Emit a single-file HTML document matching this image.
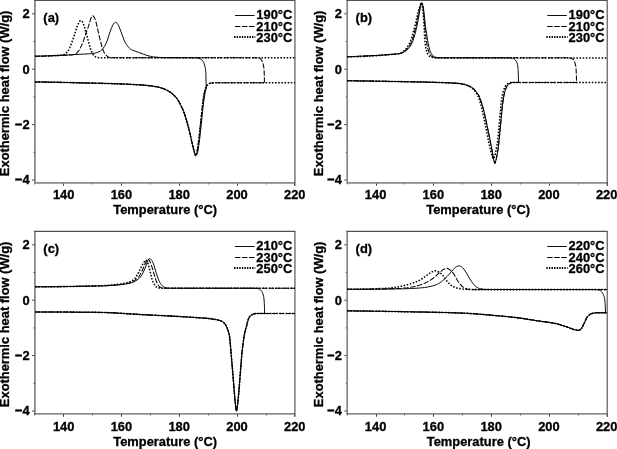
<!DOCTYPE html>
<html lang="en">
<head>
<meta charset="utf-8">
<title>DSC curves</title>
<style>
html,body{margin:0;padding:0;background:#fff;}
body{width:617px;height:449px;overflow:hidden;}
svg{display:block;}
.t text{font-family:"Liberation Sans",Arial,Helvetica,sans-serif;font-weight:bold;font-size:12.9px;fill:#000;stroke:#000;stroke-width:0.3px;}
</style>
</head>
<body>
<svg width="617" height="449" viewBox="0 0 617 449">
<rect width="617" height="449" fill="#fff"/>
<path d="M34.50 182.85v1.5M63.50 182.85v2.9M92.50 182.85v1.5M121.50 182.85v2.9M150.50 182.85v1.5M179.50 182.85v2.9M208.50 182.85v1.5M237.50 182.85v2.9M266.50 182.85v1.5M294.50 182.85v2.9M34.95 13.80h-2.9M34.95 41.50h-1.5M34.95 69.20h-2.9M34.95 96.90h-1.5M34.95 124.60h-2.9M34.95 152.30h-1.5M34.95 180.00h-2.9" stroke="#444" stroke-width="1" fill="none"/>
<path d="M34.95 -0.30V183.55" stroke="#606060" stroke-width="1.35" fill="none"/>
<path d="M34.25 182.85H294.95" stroke="#8a8a8a" stroke-width="1.7" fill="none"/>
<path d="M34.25 0.30H295.55M294.95 0.30V185.75" stroke="#505050" stroke-width="1.15" fill="none"/>
<g class="t">
<text transform="translate(63.64 199.40) scale(1 1.05)" text-anchor="middle">140</text>
<text transform="translate(121.42 199.40) scale(1 1.05)" text-anchor="middle">160</text>
<text transform="translate(179.19 199.40) scale(1 1.05)" text-anchor="middle">180</text>
<text transform="translate(236.97 199.40) scale(1 1.05)" text-anchor="middle">200</text>
<text transform="translate(294.75 199.40) scale(1 1.05)" text-anchor="middle">220</text>
<text transform="translate(29.75 18.20) scale(1 1.05)" text-anchor="end">2</text>
<text transform="translate(29.75 73.60) scale(1 1.05)" text-anchor="end">0</text>
<text transform="translate(29.75 129.00) scale(1 1.05)" text-anchor="end">−2</text>
<text transform="translate(29.75 184.40) scale(1 1.05)" text-anchor="end">−4</text>
<text transform="translate(165.15 213.50) scale(1 1.05)" text-anchor="middle">Temperature (°C)</text>
<text transform="translate(8.90 93.40) scale(1.05 1) rotate(-90)" font-size="13.2" text-anchor="middle">Exothermic heat flow (W/g)</text>
<text transform="translate(43.35 21.95) scale(1 1.05)">(a)</text>
<text transform="translate(256.35 19.05) scale(1 1.05)">190°C</text>
<text transform="translate(256.35 30.50) scale(1 1.05)">210°C</text>
<text transform="translate(256.35 41.95) scale(1 1.05)">230°C</text>
</g>
<g stroke="#000" fill="none">
<path d="M235.0 15.5H254.5" stroke-width="0.95"/>
<path d="M235.0 26.5H254.5" stroke-width="1.05" stroke-dasharray="5.4 1.6"/>
<path d="M234.1 37.0H255.3" stroke-width="2" stroke-dasharray="1.4 1.17"/>
</g>
<path d="M347.50 182.85v1.5M376.50 182.85v2.9M404.50 182.85v1.5M433.50 182.85v2.9M462.50 182.85v1.5M491.50 182.85v2.9M520.50 182.85v1.5M549.50 182.85v2.9M578.50 182.85v1.5M607.50 182.85v2.9M347.20 13.80h-2.9M347.20 41.50h-1.5M347.20 69.20h-2.9M347.20 96.90h-1.5M347.20 124.60h-2.9M347.20 152.30h-1.5M347.20 180.00h-2.9" stroke="#444" stroke-width="1" fill="none"/>
<path d="M347.20 -0.30V183.55" stroke="#858585" stroke-width="1.7" fill="none"/>
<path d="M346.50 182.85H607.20" stroke="#8a8a8a" stroke-width="1.7" fill="none"/>
<path d="M346.50 0.30H607.80M607.20 0.30V185.75" stroke="#505050" stroke-width="1.15" fill="none"/>
<g class="t">
<text transform="translate(375.59 199.40) scale(1 1.05)" text-anchor="middle">140</text>
<text transform="translate(433.37 199.40) scale(1 1.05)" text-anchor="middle">160</text>
<text transform="translate(491.14 199.40) scale(1 1.05)" text-anchor="middle">180</text>
<text transform="translate(548.92 199.40) scale(1 1.05)" text-anchor="middle">200</text>
<text transform="translate(606.70 199.40) scale(1 1.05)" text-anchor="middle">220</text>
<text transform="translate(342.00 18.20) scale(1 1.05)" text-anchor="end">2</text>
<text transform="translate(342.00 73.60) scale(1 1.05)" text-anchor="end">0</text>
<text transform="translate(342.00 129.00) scale(1 1.05)" text-anchor="end">−2</text>
<text transform="translate(342.00 184.40) scale(1 1.05)" text-anchor="end">−4</text>
<text transform="translate(478.10 213.50) scale(1 1.05)" text-anchor="middle">Temperature (°C)</text>
<text transform="translate(322.80 93.40) scale(1.05 1) rotate(-90)" font-size="13.2" text-anchor="middle">Exothermic heat flow (W/g)</text>
<text transform="translate(355.60 21.95) scale(1 1.05)">(b)</text>
<text transform="translate(568.60 19.05) scale(1 1.05)">190°C</text>
<text transform="translate(568.60 30.50) scale(1 1.05)">210°C</text>
<text transform="translate(568.60 41.95) scale(1 1.05)">230°C</text>
</g>
<g stroke="#000" fill="none">
<path d="M547.3 15.5H566.8" stroke-width="0.95"/>
<path d="M547.3 26.5H566.8" stroke-width="1.05" stroke-dasharray="5.4 1.6"/>
<path d="M546.4 37.0H567.6" stroke-width="2" stroke-dasharray="1.4 1.17"/>
</g>
<path d="M34.50 413.85v1.5M63.50 413.85v2.9M92.50 413.85v1.5M121.50 413.85v2.9M150.50 413.85v1.5M179.50 413.85v2.9M208.50 413.85v1.5M237.50 413.85v2.9M266.50 413.85v1.5M294.50 413.85v2.9M34.95 244.80h-2.9M34.95 272.50h-1.5M34.95 300.20h-2.9M34.95 327.90h-1.5M34.95 355.60h-2.9M34.95 383.30h-1.5M34.95 411.00h-2.9" stroke="#444" stroke-width="1" fill="none"/>
<path d="M34.95 230.70V414.55" stroke="#606060" stroke-width="1.35" fill="none"/>
<path d="M34.25 413.85H294.95" stroke="#626262" stroke-width="1.3" fill="none"/>
<path d="M34.25 231.30H295.55M294.95 231.30V416.75" stroke="#505050" stroke-width="1.15" fill="none"/>
<g class="t">
<text transform="translate(63.64 430.90) scale(1 1.05)" text-anchor="middle">140</text>
<text transform="translate(121.42 430.90) scale(1 1.05)" text-anchor="middle">160</text>
<text transform="translate(179.19 430.90) scale(1 1.05)" text-anchor="middle">180</text>
<text transform="translate(236.97 430.90) scale(1 1.05)" text-anchor="middle">200</text>
<text transform="translate(294.75 430.90) scale(1 1.05)" text-anchor="middle">220</text>
<text transform="translate(29.75 249.20) scale(1 1.05)" text-anchor="end">2</text>
<text transform="translate(29.75 304.60) scale(1 1.05)" text-anchor="end">0</text>
<text transform="translate(29.75 360.00) scale(1 1.05)" text-anchor="end">−2</text>
<text transform="translate(29.75 415.40) scale(1 1.05)" text-anchor="end">−4</text>
<text transform="translate(165.15 445.50) scale(1 1.05)" text-anchor="middle">Temperature (°C)</text>
<text transform="translate(8.90 324.40) scale(1.05 1) rotate(-90)" font-size="13.2" text-anchor="middle">Exothermic heat flow (W/g)</text>
<text transform="translate(43.35 252.95) scale(1 1.05)">(c)</text>
<text transform="translate(256.35 250.05) scale(1 1.05)">210°C</text>
<text transform="translate(256.35 261.50) scale(1 1.05)">230°C</text>
<text transform="translate(256.35 272.95) scale(1 1.05)">250°C</text>
</g>
<g stroke="#000" fill="none">
<path d="M235.0 246.5H254.5" stroke-width="0.95"/>
<path d="M235.0 257.5H254.5" stroke-width="1.05" stroke-dasharray="5.4 1.6"/>
<path d="M234.1 268.0H255.3" stroke-width="2" stroke-dasharray="1.4 1.17"/>
</g>
<path d="M347.50 413.85v1.5M376.50 413.85v2.9M404.50 413.85v1.5M433.50 413.85v2.9M462.50 413.85v1.5M491.50 413.85v2.9M520.50 413.85v1.5M549.50 413.85v2.9M578.50 413.85v1.5M607.50 413.85v2.9M347.20 244.80h-2.9M347.20 272.50h-1.5M347.20 300.20h-2.9M347.20 327.90h-1.5M347.20 355.60h-2.9M347.20 383.30h-1.5M347.20 411.00h-2.9" stroke="#444" stroke-width="1" fill="none"/>
<path d="M347.20 230.70V414.55" stroke="#858585" stroke-width="1.7" fill="none"/>
<path d="M346.50 413.85H607.20" stroke="#626262" stroke-width="1.3" fill="none"/>
<path d="M346.50 231.30H607.80M607.20 231.30V416.75" stroke="#505050" stroke-width="1.15" fill="none"/>
<g class="t">
<text transform="translate(375.59 431.10) scale(1 1.05)" text-anchor="middle">140</text>
<text transform="translate(433.37 431.10) scale(1 1.05)" text-anchor="middle">160</text>
<text transform="translate(491.14 431.10) scale(1 1.05)" text-anchor="middle">180</text>
<text transform="translate(548.92 431.10) scale(1 1.05)" text-anchor="middle">200</text>
<text transform="translate(606.70 431.10) scale(1 1.05)" text-anchor="middle">220</text>
<text transform="translate(342.00 249.20) scale(1 1.05)" text-anchor="end">2</text>
<text transform="translate(342.00 304.60) scale(1 1.05)" text-anchor="end">0</text>
<text transform="translate(342.00 360.00) scale(1 1.05)" text-anchor="end">−2</text>
<text transform="translate(342.00 415.40) scale(1 1.05)" text-anchor="end">−4</text>
<text transform="translate(478.60 445.70) scale(1 1.05)" text-anchor="middle">Temperature (°C)</text>
<text transform="translate(322.80 324.40) scale(1.05 1) rotate(-90)" font-size="13.2" text-anchor="middle">Exothermic heat flow (W/g)</text>
<text transform="translate(355.60 252.95) scale(1 1.05)">(d)</text>
<text transform="translate(568.60 250.05) scale(1 1.05)">220°C</text>
<text transform="translate(568.60 261.50) scale(1 1.05)">240°C</text>
<text transform="translate(568.60 272.95) scale(1 1.05)">260°C</text>
</g>
<g stroke="#000" fill="none">
<path d="M547.3 246.5H566.8" stroke-width="0.95"/>
<path d="M547.3 257.5H566.8" stroke-width="1.05" stroke-dasharray="5.4 1.6"/>
<path d="M546.4 268.0H567.6" stroke-width="2" stroke-dasharray="1.4 1.17"/>
</g>
<g stroke="#000" fill="none" stroke-linejoin="round">
<path d="M35.00 81.90L64.00 82.43L104.50 83.40L122.50 83.98L137.00 84.67L142.50 85.06L147.50 85.52L152.00 86.06L156.50 86.73L158.50 87.15L161.00 87.86L163.50 88.76L166.00 89.83L168.50 91.08L170.00 92.02L171.00 92.74L172.50 93.96L173.50 94.87L176.00 97.46L177.50 99.35L179.00 101.74L180.50 104.55L182.00 107.72L183.50 111.22L184.50 113.96L185.50 117.03L187.00 122.11L188.50 127.53L189.50 131.47L192.50 144.76L194.00 150.77L194.50 152.57L195.50 155.52L196.00 155.35L197.30 153.84L197.80 151.85L198.30 149.03L199.80 138.14L202.80 109.59L203.30 105.04L203.80 101.20L204.80 94.70L205.30 91.95L205.80 89.81L206.30 88.41L206.30 86.60L206.07 82.09L205.82 72.56L205.68 70.56L205.39 68.53L205.10 67.02L204.62 65.08L204.20 63.71L203.81 62.75L203.30 61.78L202.70 60.87L202.04 60.07L201.35 59.46L200.17 58.84L198.73 58.31L197.16 57.93L196.13 57.81L164.04 57.58L159.01 57.38L153.53 56.95L152.05 56.71L150.57 56.38L145.74 55.03L143.38 54.19L138.69 52.38L134.77 51.06L132.87 50.33L131.56 49.71L130.75 49.24L130.00 48.68L129.27 48.03L128.56 47.30L127.56 46.09L126.65 44.82L125.84 43.53L124.69 41.39L123.70 39.10L119.30 27.18L118.72 25.79L118.02 24.53L117.06 23.17L116.29 22.42L115.91 22.23L115.53 22.22L115.12 22.39L114.29 23.09L113.28 24.29L112.77 25.11L112.32 25.99L111.71 27.40L110.06 31.68L107.78 38.95L106.96 41.31L106.01 43.58L104.57 46.24L103.10 48.44L101.76 49.95L101.05 50.56L100.30 51.05L99.01 51.74L98.07 52.16L96.09 52.85L94.59 53.21L91.66 53.57L88.17 53.85L65.07 55.07L49.03 55.77L35.00 56.30" stroke-width="0.95"/>
<path d="M35.00 81.90L64.00 82.43L104.50 83.40L122.50 83.98L137.00 84.67L142.50 85.06L147.50 85.52L152.00 86.06L156.50 86.73L158.50 87.15L161.00 87.86L163.50 88.76L166.00 89.83L168.50 91.08L170.00 92.02L171.00 92.74L172.50 93.96L173.50 94.87L176.00 97.46L177.50 99.35L179.00 101.74L180.50 104.55L182.00 107.72L183.50 111.22L184.50 113.96L185.50 117.03L187.00 122.11L188.50 127.53L189.50 131.47L192.50 144.76L194.00 150.77L194.50 152.57L195.50 155.52L196.00 155.35L196.50 153.84L197.00 151.85L197.50 149.03L198.00 145.66L199.00 138.14L199.50 133.65L202.50 105.04L203.00 101.20L204.00 94.70L204.50 91.95L205.00 89.81L205.50 88.41L206.50 86.29L207.00 85.44L207.50 84.74L208.00 84.21L208.50 83.85L209.00 83.63L210.50 83.13L211.50 82.94L214.00 82.83L264.40 82.80L264.33 76.76L264.10 70.28L263.93 68.26L263.51 65.71L263.05 63.75L262.63 62.39L262.26 61.47L261.74 60.46L261.10 59.50L260.37 58.68L259.60 58.15L259.21 58.02L257.36 57.86L254.74 57.80L114.97 57.80L113.46 57.75L111.42 57.56L109.47 57.25L108.55 56.98L107.66 56.46L106.85 55.86L106.09 55.20L105.38 54.46L104.77 53.66L104.27 52.83L103.23 50.56L102.07 47.21L101.14 43.83L99.21 36.05L96.61 24.30L95.84 21.40L95.02 18.99L94.39 17.65L93.44 16.28L93.06 15.91L92.70 15.71L92.38 15.77L92.05 16.10L91.44 17.11L90.84 18.49L88.03 27.61L85.95 33.25L83.59 40.39L82.54 43.21L81.57 45.52L80.04 48.74L79.00 50.45L78.42 51.20L77.38 52.34L76.59 53.10L75.76 53.76L74.89 54.28L74.01 54.58L71.74 54.87L68.79 55.11L48.52 55.97L41.51 56.18L35.00 56.30" stroke-width="1.05" stroke-dasharray="5.4 1.6"/>
<path d="M35.00 81.90L64.00 82.43L104.50 83.40L122.50 83.98L137.00 84.67L142.50 85.06L147.50 85.52L152.00 86.06L156.50 86.73L158.50 87.15L161.00 87.86L163.50 88.76L166.00 89.83L168.50 91.08L170.00 92.02L171.00 92.74L172.50 93.96L173.50 94.87L176.00 97.46L177.50 99.35L179.00 101.74L180.50 104.55L182.00 107.72L183.50 111.22L184.50 113.96L185.50 117.03L187.00 122.11L188.50 127.53L189.50 131.47L192.50 144.76L194.00 150.77L194.50 152.57L195.50 155.52L196.00 155.35L196.50 153.84L197.00 151.85L197.50 149.03L198.00 145.66L199.00 138.14L199.50 133.65L202.50 105.04L203.00 101.20L204.00 94.70L204.50 91.95L205.00 89.81L205.50 88.41L206.50 86.29L207.00 85.44L207.50 84.74L208.00 84.21L208.50 83.85L209.00 83.63L210.00 83.26L211.00 83.02L212.00 82.90L215.00 82.81L294.90 82.80" stroke-width="1.55" stroke-dasharray="1.55 1.6"/>
<path d="M35.00 56.30L40.00 56.24L45.00 56.09L58.00 55.42L60.50 55.19L63.00 54.82L64.00 54.61L64.50 54.43L65.00 54.11L66.00 53.17L67.50 51.51L68.50 50.14L69.50 48.41L70.00 47.28L71.50 43.41L73.00 39.27L75.00 33.26L76.50 28.31L77.50 25.54L79.00 22.22L79.50 21.41L80.00 20.92L80.50 20.57L81.00 20.53L81.50 20.83L82.00 21.30L82.50 22.04L83.50 24.26L84.00 25.66L85.00 28.83L86.50 34.53L90.00 47.25L91.00 50.21L92.00 52.65L92.50 53.57L93.50 55.07L94.00 55.68L94.50 56.15L96.00 57.09L97.00 57.49L97.50 57.59L100.00 57.74L103.00 57.80L294.90 57.80" stroke-width="1.55" stroke-dasharray="1.55 1.6"/>
<path d="M347.20 80.70L378.70 81.21L422.20 82.02L440.20 82.50L450.70 82.90L458.70 83.45L460.70 83.67L462.20 83.93L464.20 84.40L466.70 85.19L469.20 86.17L471.20 87.12L472.70 88.13L473.70 88.99L474.70 89.98L476.20 91.72L478.20 94.50L478.70 95.36L479.70 97.57L480.70 100.31L481.70 103.41L482.70 106.70L483.70 110.38L485.20 116.86L487.70 128.50L489.70 138.26L491.70 148.53L493.20 157.19L494.20 161.68L494.70 163.31L495.20 163.09L496.20 159.19L497.20 154.29L498.20 148.00L498.70 144.01L499.20 139.23L502.20 107.60L502.70 103.40L503.70 96.74L504.20 94.01L504.70 91.86L505.70 88.97L506.70 86.71L507.20 85.82L507.70 85.11L508.20 84.58L509.20 83.82L510.70 82.92L511.70 82.54L512.20 82.44L518.50 82.40L518.39 75.82L518.09 69.36L517.89 66.86L517.38 64.27L516.94 62.81L516.60 61.94L516.21 61.15L515.93 60.76L515.24 59.96L514.40 59.23L513.49 58.64L512.57 58.26L510.17 57.91L508.11 57.80L440.44 57.79L437.90 57.60L435.49 57.20L434.56 56.79L433.26 55.89L432.53 55.23L431.91 54.51L431.34 53.68L430.61 52.30L430.03 50.90L429.56 49.50L428.69 46.08L428.01 42.63L427.18 37.17L425.69 28.27L425.28 24.79L424.38 15.31L423.48 8.31L423.11 6.35L422.70 4.83L422.25 3.70L422.03 3.37L421.83 3.32L421.63 3.54L421.25 4.48L420.51 7.26L420.10 9.21L418.22 19.58L416.74 26.95L415.23 33.29L413.55 39.08L412.87 40.96L412.09 42.81L411.19 44.63L410.42 45.93L409.29 47.54L408.30 48.69L407.20 49.77L406.03 50.73L403.50 52.35L401.65 53.24L400.22 53.66L397.80 53.97L383.25 55.06L374.24 55.58L359.73 56.28L347.20 56.70" stroke-width="0.95"/>
<path d="M347.20 80.70L378.70 81.21L422.20 82.02L440.20 82.50L450.70 82.90L458.70 83.45L460.70 83.67L462.20 83.93L464.20 84.40L466.70 85.19L469.20 86.17L471.20 87.12L472.70 88.13L473.70 88.99L474.70 89.98L476.20 91.72L478.20 94.50L478.70 95.36L479.70 97.57L480.70 100.31L481.70 103.41L482.70 106.70L483.70 110.38L485.20 116.86L487.70 128.50L489.70 138.26L491.70 148.53L493.20 157.19L494.20 161.68L494.70 163.31L495.20 163.09L496.20 159.19L497.20 154.29L498.20 148.00L498.70 144.01L499.20 139.23L502.20 107.60L502.70 103.40L503.70 96.74L504.20 94.01L504.70 91.86L505.70 88.97L506.70 86.71L507.20 85.82L507.70 85.11L508.20 84.58L509.70 83.48L510.70 82.92L511.70 82.54L512.70 82.40L576.50 82.40L576.42 76.83L576.17 70.84L575.95 67.37L575.53 64.80L575.15 63.31L574.68 61.93L574.30 61.09L573.73 60.20L573.01 59.35L572.19 58.65L571.77 58.40L570.92 58.15L568.95 57.89L566.88 57.80L439.01 57.80L436.98 57.72L434.49 57.44L433.54 57.23L432.59 56.80L431.35 55.94L430.69 55.26L430.09 54.44L429.33 53.06L428.77 51.69L428.31 50.27L427.80 48.31L427.27 45.84L426.43 40.89L425.55 33.93L424.84 26.94L423.99 16.95L423.18 8.94L422.80 6.48L422.41 4.70L422.06 3.57L421.88 3.16L421.70 2.93L421.51 2.92L421.31 3.12L420.87 3.98L420.23 5.76L419.79 7.27L419.34 9.21L417.52 19.10L416.69 23.02L414.23 33.27L413.15 37.14L412.39 39.53L411.70 41.40L410.89 43.24L409.95 45.05L409.16 46.33L408.31 47.53L407.33 48.69L406.24 49.79L405.09 50.76L403.87 51.57L402.55 52.35L400.68 53.20L399.24 53.59L396.81 53.92L383.26 55.04L374.26 55.59L359.73 56.31L347.20 56.70" stroke-width="1.05" stroke-dasharray="5.4 1.6"/>
<path d="M347.20 80.70L377.70 81.19L421.20 82.00L435.20 82.35L449.20 82.83L457.20 83.32L459.70 83.54L461.70 83.81L464.20 84.35L466.20 84.92L468.20 85.64L470.20 86.50L471.20 87.16L472.70 88.58L474.70 90.80L476.20 92.78L477.20 94.38L478.20 96.35L478.70 97.59L479.70 100.54L481.20 105.74L482.20 109.96L485.70 126.60L489.20 144.07L490.70 150.78L492.20 156.76L492.70 157.95L493.20 158.53L493.70 158.43L494.20 157.63L494.70 156.49L495.20 154.57L495.70 152.09L496.70 146.78L497.20 143.77L497.70 140.33L498.20 136.22L500.70 107.55L501.20 103.00L501.70 99.38L502.20 96.16L502.70 93.48L503.20 91.50L503.70 89.99L504.70 87.48L505.20 86.50L505.70 85.70L506.20 85.10L507.20 84.21L508.20 83.47L509.20 82.93L510.20 82.63L512.70 82.50L516.20 82.41L607.20 82.40" stroke-width="1.55" stroke-dasharray="1.55 1.6"/>
<path d="M347.20 56.90L355.20 56.75L363.70 56.41L379.20 55.51L384.20 55.10L395.20 53.98L398.70 53.47L400.20 53.15L400.70 52.98L401.70 52.48L403.20 51.52L404.20 50.70L405.20 49.72L406.20 48.58L407.20 47.30L408.20 45.77L409.20 43.95L410.70 40.67L411.70 37.80L412.70 34.50L415.70 23.13L416.20 21.13L417.70 13.80L418.20 11.93L419.20 8.64L420.20 5.05L420.70 3.70L421.20 2.63L421.70 2.88L422.20 4.50L422.70 7.50L423.20 12.61L423.70 19.45L424.20 27.60L424.70 38.34L425.20 44.12L425.70 47.44L426.20 49.70L426.70 51.50L427.20 53.03L427.70 54.24L428.20 55.08L429.20 56.07L430.20 56.74L431.20 57.13L433.70 57.70L435.20 57.87L436.20 57.90L607.20 57.90" stroke-width="1.55" stroke-dasharray="1.55 1.6"/>
<path d="M35.00 312.00L65.00 312.08L94.50 312.34L103.50 312.47L114.00 312.89L145.00 314.79L173.00 316.13L204.50 318.11L210.50 318.70L215.50 319.49L217.50 319.90L219.00 320.28L220.50 320.76L222.00 321.38L223.00 322.00L223.50 322.38L224.50 323.30L225.00 323.91L226.00 325.61L227.00 327.70L228.00 330.39L229.00 333.65L229.50 336.10L230.00 340.48L232.00 363.83L235.00 400.36L236.00 409.59L236.50 411.11L237.00 408.78L237.50 405.30L238.50 395.90L241.50 358.35L242.00 352.73L243.00 343.96L244.00 336.85L244.50 334.01L245.00 331.67L245.50 329.72L246.50 326.23L248.00 320.33L248.50 318.82L249.50 316.92L250.00 316.17L250.50 315.59L251.00 315.20L252.00 314.66L253.00 314.21L254.50 313.72L256.00 313.50L260.00 313.41L264.60 313.40L264.52 308.33L264.30 303.32L263.99 298.87L263.61 296.31L262.93 293.81L262.42 292.47L262.01 291.65L261.42 290.81L260.67 289.99L259.82 289.31L259.39 289.05L258.53 288.76L256.64 288.46L254.57 288.26L253.01 288.20L169.24 288.20L167.73 288.10L166.20 287.77L164.36 287.14L163.52 286.69L162.70 286.07L161.93 285.34L161.22 284.55L160.60 283.73L159.84 282.53L158.98 280.78L158.08 278.40L156.14 272.60L154.15 265.84L153.11 263.03L152.47 261.64L151.71 260.35L150.67 259.08L150.26 258.73L149.87 258.53L149.51 258.53L149.14 258.77L148.78 259.15L148.12 260.12L147.64 260.99L146.90 262.81L145.51 267.19L143.87 270.95L142.97 272.85L141.99 274.67L141.19 275.94L140.33 277.09L139.41 278.09L138.34 279.04L137.12 279.95L135.80 280.80L134.41 281.57L132.99 282.22L131.57 282.74L130.18 283.11L127.79 283.64L125.32 284.09L120.26 284.78L113.74 285.30L105.22 285.74L89.17 286.15L68.62 286.53L51.06 286.73L35.00 286.80" stroke-width="0.95"/>
<path d="M35.00 312.00L65.00 312.08L94.50 312.34L103.50 312.47L114.00 312.89L145.00 314.79L173.00 316.13L204.50 318.11L210.50 318.70L215.50 319.49L217.50 319.90L219.00 320.28L220.50 320.76L222.00 321.38L223.00 322.00L223.50 322.38L224.50 323.30L225.00 323.91L226.00 325.61L227.00 327.70L228.00 330.39L229.00 333.65L229.50 336.10L230.00 340.48L232.00 363.83L235.00 400.36L236.00 409.59L236.50 411.11L237.00 408.78L237.50 405.30L238.00 400.98L239.00 390.06L241.50 358.35L242.00 352.73L242.50 348.13L243.50 340.19L244.50 334.01L245.00 331.67L245.50 329.72L246.50 326.23L248.00 320.33L248.50 318.82L249.50 316.92L250.00 316.17L250.50 315.59L251.00 315.20L251.50 314.92L253.00 314.21L254.00 313.85L255.00 313.62L256.00 313.50L261.50 313.40L294.90 313.40" stroke-width="1.05" stroke-dasharray="5.4 1.6"/>
<path d="M35.00 286.80L51.50 286.74L68.50 286.54L87.00 286.21L103.00 285.80L110.50 285.39L118.50 284.71L121.50 284.35L124.00 283.97L126.50 283.50L128.50 283.05L130.00 282.66L131.00 282.31L132.00 281.88L133.50 281.08L135.00 280.10L136.50 278.95L138.00 277.60L138.50 277.03L139.00 276.35L140.00 274.75L141.50 271.89L143.50 267.70L144.00 266.53L145.50 262.48L146.00 261.37L147.00 259.61L147.50 259.06L148.00 259.07L148.50 259.47L149.00 260.10L149.50 260.80L150.00 261.69L150.50 262.86L152.00 267.07L154.00 273.91L156.00 280.34L157.00 283.08L157.50 284.00L158.00 284.71L159.00 286.01L159.50 286.56L160.50 287.40L161.00 287.66L161.50 287.80L164.50 288.11L167.00 288.20L294.90 288.20" stroke-width="1.05" stroke-dasharray="5.4 1.6"/>
<path d="M35.00 312.00L65.00 312.08L94.50 312.34L103.50 312.47L114.00 312.89L145.00 314.79L173.00 316.13L204.50 318.11L210.50 318.70L215.50 319.49L217.50 319.90L219.00 320.28L220.50 320.76L222.00 321.38L223.00 322.00L223.50 322.38L224.50 323.30L225.00 323.91L226.00 325.61L227.00 327.70L228.00 330.39L229.00 333.65L229.50 336.10L230.00 340.48L232.00 363.83L235.00 400.36L236.00 409.59L236.50 411.11L237.00 408.78L237.50 405.30L238.00 400.98L239.00 390.06L241.50 358.35L242.00 352.73L242.50 348.13L243.50 340.19L244.50 334.01L245.00 331.67L245.50 329.72L246.50 326.23L248.00 320.33L248.50 318.82L249.50 316.92L250.00 316.17L250.50 315.59L251.00 315.20L251.50 314.92L253.00 314.21L254.00 313.85L255.00 313.62L256.00 313.50L261.50 313.40L294.90 313.40" stroke-width="1.55" stroke-dasharray="1.55 1.6"/>
<path d="M35.00 286.80L51.00 286.73L67.50 286.53L85.00 286.19L102.00 285.73L109.00 285.33L116.00 284.69L121.00 283.98L125.50 283.07L128.00 282.41L129.50 281.88L130.50 281.44L132.50 280.34L134.00 279.30L134.50 278.85L135.00 278.28L136.00 276.85L138.50 272.62L143.00 263.62L143.50 262.73L145.00 260.70L145.50 260.28L146.00 260.24L146.50 260.67L147.00 261.41L147.50 262.32L148.00 263.44L148.50 265.09L152.00 278.91L152.50 280.66L153.00 282.06L154.00 283.93L155.00 285.50L155.50 286.17L156.50 287.19L157.00 287.52L158.00 287.80L160.50 288.17L163.00 288.30L294.90 288.30" stroke-width="1.55" stroke-dasharray="1.55 1.6"/>
<path d="M347.20 310.80L393.20 311.49L429.70 312.18L446.70 312.58L458.70 312.95L465.70 313.26L473.70 313.77L483.70 314.55L505.20 316.42L516.70 317.64L522.70 318.47L536.70 320.72L547.20 322.14L551.20 322.75L555.70 323.58L557.70 324.07L559.70 324.63L567.70 327.24L571.70 328.77L573.70 329.43L576.70 330.09L577.70 330.24L578.70 330.30L579.20 330.22L579.70 329.98L580.20 329.63L581.70 328.19L582.20 327.47L582.70 326.51L586.20 318.73L586.70 317.74L587.20 316.95L587.70 316.37L588.70 315.40L589.70 314.62L590.70 314.04L591.70 313.67L593.70 313.11L595.20 312.85L596.20 312.80L605.50 312.80L605.38 307.71L605.06 302.73L604.71 299.30L604.53 298.28L604.13 296.74L603.62 295.25L603.22 294.33L602.57 293.11L602.03 292.37L601.31 291.61L600.47 290.90L599.56 290.32L598.63 289.92L598.17 289.81L596.74 289.64L594.18 289.50L490.97 289.50L484.45 289.38L481.93 289.09L479.53 288.57L478.14 287.98L477.24 287.47L475.97 286.58L474.83 285.65L474.14 284.98L472.86 283.46L471.41 281.35L469.21 277.95L465.99 272.27L465.16 271.02L463.66 268.96L462.67 267.78L461.57 266.84L460.24 266.07L459.76 265.89L459.28 265.80L458.30 265.91L456.86 266.36L456.43 266.57L455.62 267.16L453.08 269.64L449.24 274.29L447.17 276.47L445.37 278.21L442.37 280.91L441.21 281.87L440.00 282.75L438.73 283.51L437.39 284.21L435.07 285.18L432.67 285.88L427.28 287.11L424.32 287.58L419.33 288.03L410.32 288.55L402.81 288.84L375.26 289.18L347.20 289.30" stroke-width="0.95"/>
<path d="M347.20 310.80L393.20 311.49L429.70 312.18L446.70 312.58L458.70 312.95L465.70 313.26L473.70 313.77L483.70 314.55L505.20 316.42L516.70 317.64L522.70 318.47L536.70 320.72L547.20 322.14L551.20 322.75L555.70 323.58L557.70 324.07L559.70 324.63L567.70 327.24L571.70 328.77L573.70 329.43L576.70 330.09L577.70 330.24L578.70 330.30L579.20 330.22L579.70 329.98L580.20 329.63L581.70 328.19L582.20 327.47L582.70 326.51L586.20 318.73L586.70 317.74L587.20 316.95L588.20 315.87L589.20 314.98L590.20 314.30L591.20 313.83L592.70 313.37L594.20 313.01L595.20 312.85L596.20 312.80L607.20 312.80" stroke-width="1.05" stroke-dasharray="5.4 1.6"/>
<path d="M347.20 289.30L359.20 289.25L371.20 289.12L384.20 288.87L396.20 288.56L401.20 288.27L407.20 287.72L410.20 287.34L413.70 286.68L417.70 285.71L419.70 285.10L421.70 284.40L424.70 283.16L428.20 281.39L431.20 279.62L433.20 278.23L435.20 276.55L439.20 272.96L442.20 270.41L443.20 269.65L443.70 269.35L445.20 268.66L446.20 268.35L446.70 268.30L447.20 268.36L447.70 268.51L448.20 268.74L449.70 269.62L450.70 270.41L452.20 271.97L453.20 273.18L454.20 274.59L457.20 280.00L458.20 281.56L460.20 284.19L461.70 285.90L462.70 286.79L463.20 287.14L465.20 288.24L466.70 288.86L468.20 289.19L471.70 289.42L474.70 289.50L607.20 289.50" stroke-width="1.05" stroke-dasharray="5.4 1.6"/>
<path d="M347.20 310.80L393.20 311.49L429.70 312.18L446.70 312.58L458.70 312.95L465.70 313.26L473.70 313.77L483.70 314.55L505.20 316.42L516.70 317.64L522.70 318.47L536.70 320.72L547.20 322.14L551.20 322.75L555.70 323.58L557.70 324.07L559.70 324.63L567.70 327.24L571.70 328.77L573.70 329.43L576.70 330.09L577.70 330.24L578.70 330.30L579.20 330.22L579.70 329.98L580.20 329.63L581.70 328.19L582.20 327.47L582.70 326.51L586.20 318.73L586.70 317.74L587.20 316.95L588.20 315.87L589.20 314.98L590.20 314.30L591.20 313.83L592.70 313.37L594.20 313.01L595.20 312.85L596.20 312.80L607.20 312.80" stroke-width="1.55" stroke-dasharray="1.55 1.6"/>
<path d="M347.20 289.30L356.20 289.24L365.70 289.07L375.70 288.77L385.70 288.36L389.20 288.06L394.20 287.44L397.70 286.90L401.70 286.14L406.20 285.09L410.70 283.82L414.70 282.44L418.20 280.97L420.20 279.99L422.20 278.76L430.20 272.89L431.20 272.22L431.70 271.94L433.70 271.06L434.70 270.82L435.20 270.81L435.70 270.86L436.70 271.12L438.70 271.92L440.20 272.92L441.70 274.20L442.20 274.70L443.20 275.93L445.70 279.53L446.70 280.80L449.70 284.18L451.20 285.48L452.20 286.07L453.70 286.80L455.20 287.41L456.70 287.90L458.20 288.28L460.20 288.68L463.70 289.19L468.20 289.49L471.70 289.60L607.20 289.60" stroke-width="1.55" stroke-dasharray="1.55 1.6"/>
</g>
</svg>
</body>
</html>
